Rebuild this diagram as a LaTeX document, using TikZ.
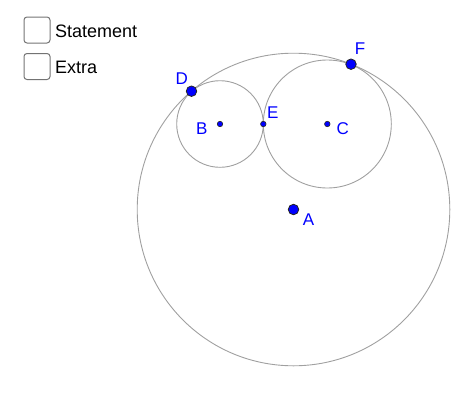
\documentclass[tikz,border=0pt]{standalone}
\usepackage{fontspec}
\setmainfont{Liberation Sans}
\definecolor{ptblue}{RGB}{0,0,255}
\definecolor{ringgray}{RGB}{160,160,160}
\definecolor{boxgray}{RGB}{115,115,115}
\begin{document}
\begin{tikzpicture}[
    x=1pt, y=-1pt,
    font=\fontsize{17}{20}\selectfont,
    bigpt/.style={circle, draw=black!85, fill=ptblue, inner sep=0pt, minimum size=10.5pt, line width=0.8pt},
    smallpt/.style={circle, draw=black!85, fill=ptblue, inner sep=0pt, minimum size=5.5pt, line width=0.6pt},
    lbl/.style={text=ptblue, inner sep=0pt},
    ring/.style={draw=ringgray, line width=0.9pt},
    chk/.style={draw=boxgray, rounded corners=3pt, minimum size=26pt, inner sep=0pt, line width=1pt},
    chktext/.style={anchor=base west, inner sep=0pt, font=\fontsize{18}{21}\selectfont}
]
\useasboundingbox (0,0) rectangle (470,407);

% check boxes
\node[chk] (boxStatement) at (37,30) {};
\node[chktext] (txtStatement) at (55,37) {Statement};
\node[chk] (boxExtra) at (37,66.5) {};
\node[chktext] (txtExtra) at (55,73.5) {Extra};

% centres
\coordinate (cA) at (293.5,209.5);
\coordinate (cB) at (220,124);
\coordinate (cC) at (327.3,124);

% circles
\draw[ring] (cA) circle[radius=156.3pt];
\draw[ring] (cB) circle[radius=43.3pt];
\draw[ring] (cC) circle[radius=64pt];

% points
\node[bigpt] (A) at (cA) {};
\node[smallpt] (B) at (cB) {};
\node[smallpt] (C) at (cC) {};
\node[smallpt] (E) at (263.3,124) {};
\node[bigpt] (D) at (191.5,91.2) {};
\node[bigpt] (F) at (351,64.2) {};

% labels
\node[lbl] (lblA) at (308.5,220) {A};
\node[lbl] (lblB) at (201.7,128.3) {B};
\node[lbl] (lblC) at (342.7,128.3) {C};
\node[lbl] (lblD) at (181.7,78.3) {D};
\node[lbl] (lblE) at (272.7,112.7) {E};
\node[lbl] (lblF) at (360,48.3) {F};
\end{tikzpicture}
\end{document}
